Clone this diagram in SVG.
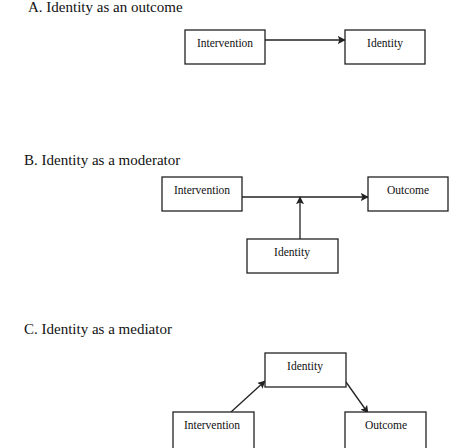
<svg xmlns="http://www.w3.org/2000/svg" width="474" height="448" viewBox="0 0 474 448">
<style>
.t{font-family:"Liberation Serif","Times New Roman",serif;font-size:15px;fill:#111}
.l{font-family:"Liberation Serif","Times New Roman",serif;font-size:11.5px;fill:#111;text-anchor:middle}
.b{fill:#fff;stroke:#222;stroke-width:1.3}
.c{stroke:#222;stroke-width:1.3;fill:none;marker-end:url(#ah)}
</style>
<defs>
<marker id="ah" viewBox="0 0 10 10" refX="9" refY="5" markerWidth="8" markerHeight="8" markerUnits="userSpaceOnUse" orient="auto">
<path d="M0,0 L10,5 L0,10 L2,5 z" fill="#222"/>
</marker>
</defs>
<rect width="474" height="448" fill="#fff"/>
<text class="t" x="28" y="12">A. Identity as an outcome</text>
<text class="t" x="24" y="165">B. Identity as a moderator</text>
<text class="t" x="24" y="334">C. Identity as a mediator</text>
<g id="connectors">
<line class="c" x1="265" y1="40" x2="345" y2="40"/>
<line class="c" x1="242" y1="197" x2="368" y2="197"/>
<line class="c" x1="300" y1="239" x2="300" y2="197"/>
<line class="c" x1="231" y1="412" x2="265" y2="381"/>
<line class="c" x1="346" y1="382" x2="368" y2="413"/>
</g>
<g id="a-intervention"><rect class="b" x="185" y="30" width="80" height="34"/><text class="l" x="225" y="47">Intervention</text></g>
<g id="a-identity"><rect class="b" x="345" y="30" width="80" height="34"/><text class="l" x="385" y="47">Identity</text></g>
<g id="b-intervention"><rect class="b" x="162" y="177" width="80" height="34"/><text class="l" x="202" y="194">Intervention</text></g>
<g id="b-outcome"><rect class="b" x="368" y="177" width="80" height="34"/><text class="l" x="408" y="194">Outcome</text></g>
<g id="b-identity"><rect class="b" x="247" y="239" width="91" height="34"/><text class="l" x="292" y="256">Identity</text></g>
<g id="c-identity"><rect class="b" x="265" y="353" width="81" height="34"/><text class="l" x="305" y="370">Identity</text></g>
<g id="c-intervention"><rect class="b" x="173" y="412" width="81" height="40"/><text class="l" x="212" y="429">Intervention</text></g>
<g id="c-outcome"><rect class="b" x="345" y="412" width="81" height="40"/><text class="l" x="386" y="429">Outcome</text></g>
</svg>
